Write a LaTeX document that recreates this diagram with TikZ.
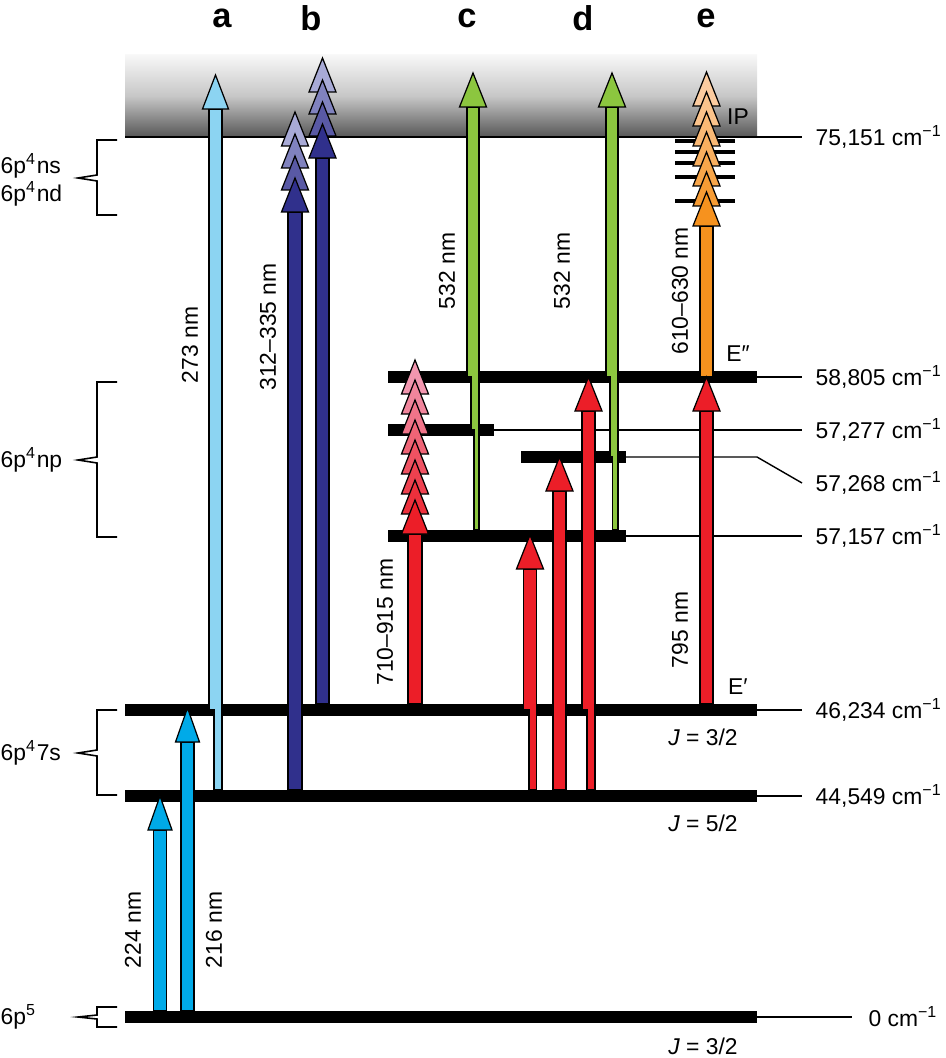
\documentclass[tikz,border=0pt]{standalone}
\usepackage{fontspec}
\setmainfont{Liberation Sans}
\usetikzlibrary{positioning}
\definecolor{skyblue}{RGB}{140,212,242}
\definecolor{cyanblue}{RGB}{0,170,232}
\definecolor{navyblue}{RGB}{48,48,140}
\definecolor{lavender}{RGB}{168,170,214}
\definecolor{laserred}{RGB}{236,30,40}
\definecolor{lightpink}{RGB}{242,150,175}
\definecolor{lasergreen}{RGB}{140,198,63}
\definecolor{laserorange}{RGB}{246,146,30}
\definecolor{peach}{RGB}{252,204,160}
%Arrow head: colour, x centre, y of tip, half width
\newcommand{\arrhead}[4]{\filldraw[arr,fill=#1] ({#2},{#3}) -- ({#2+#4},{#3+34}) -- ({#2-#4},{#3+34}) -- cycle;}
\begin{document}
\begin{tikzpicture}[x=0.01cm,y=-0.01cm,
  bar/.style={line width=3.5pt},
  lead/.style={line width=0.4pt},
  brack/.style={line width=0.45pt},
  arr/.style={draw=black,line width=0.35pt,line join=miter},
  lab/.style={font=\fontsize{6.5}{7.8}\selectfont,inner sep=0pt},
  colname/.style={font=\fontsize{9.8}{11}\selectfont\bfseries,inner sep=0pt}]
  \useasboundingbox (0,0) rectangle (946,1058);
  %Ionisation continuum
  \shade[top color=black!3,bottom color=black!66,middle color=black!22] (125,55) rectangle (757,137);
  \draw[line width=0.6pt] (125,137) -- (757,137) coordinate (ipe);
  \coordinate (tip) at (802,137);
  \draw[lead] (ipe) -- (tip);
  \node[lab,right=3.7pt of tip] (vip) {75,151 cm\textsuperscript{−1}};
  \node[lab] (nip) at (738,117) {IP};

  %Column letters
  \node[colname] (ca) at (222,18) {a};
  \node[colname] (cb) at (311,18) {b};
  \node[colname] (cc) at (467,18) {c};
  \node[colname] (cd) at (583,18) {d};
  \node[colname] (ce) at (706,18) {e};

  %Levels
  \draw[bar] (125,1017) -- (757,1017) coordinate (g0);
  \draw[bar] (125,796) -- (757,796) coordinate (g44549);
  \draw[bar] (125,710) -- (757,710) coordinate (g46234);
  \draw[bar] (388,536) -- (626,536) coordinate (g57157);
  \draw[bar] (521,457) -- (626,457) coordinate (g57268);
  \draw[bar] (388,430) -- (494,430) coordinate (g57277);
  \draw[bar] (388,377) -- (757,377) coordinate (g58805);
  %Rydberg series below IP
  \foreach \yr in {141,152,163,177,201}
    \draw[line width=1.15pt] (675,\yr) -- (735,\yr);

  %Level energies
  \coordinate (t0) at (852,1017);
  \coordinate (t44549) at (802,796);
  \coordinate (t46234) at (802,710);
  \coordinate (t57157) at (802,536);
  \coordinate (t57268) at (802,483);
  \coordinate (t57277) at (802,430);
  \coordinate (t58805) at (802,377);
  \draw[lead] (g0) -- (t0);
  \draw[lead] (g44549) -- (t44549);
  \draw[lead] (g46234) -- (t46234);
  \draw[lead] (g57157) -- (t57157);
  \draw[lead] (g57268) -- (757,457) -- (t57268);
  \draw[lead] (g57277) -- (t57277);
  \draw[lead] (g58805) -- (t58805);
  \node[lab,right=4.5pt of t0] (v0) {0 cm\textsuperscript{−1}};
  \node[lab,right=3.7pt of t44549] (v44549) {44,549 cm\textsuperscript{−1}};
  \node[lab,right=3.7pt of t46234] (v46234) {46,234 cm\textsuperscript{−1}};
  \node[lab,right=3.7pt of t57157] (v57157) {57,157 cm\textsuperscript{−1}};
  \node[lab,right=3.7pt of t57268] (v57268) {57,268 cm\textsuperscript{−1}};
  \node[lab,right=3.7pt of t57277] (v57277) {57,277 cm\textsuperscript{−1}};
  \node[lab,right=3.7pt of t58805] (v58805) {58,805 cm\textsuperscript{−1}};
  \node[lab] (j0) at (703,1046) {\itshape J\upshape{} = 3/2};
  \node[lab] (j44549) at (703,823) {\itshape J\upshape{} = 5/2};
  \node[lab] (j46234) at (703,737) {\itshape J\upshape{} = 3/2};
  \node[lab] (eone) at (738,687) {E′};
  \node[lab] (etwo) at (738,354) {E″};

  %Configurations
  \draw[brack] (117,140) -- (97,140) -- (97,175) -- (78,178) -- (97,181) -- (97,215) -- (117,215);
  \draw[brack] (117,382) -- (97,382) -- (97,457) -- (78,460) -- (97,463) -- (97,537) -- (117,537);
  \draw[brack] (117,710) -- (97,710) -- (97,750) -- (78,753) -- (97,756) -- (97,795) -- (117,795);
  \draw[brack] (117,1007) -- (97,1007) -- (97,1015) -- (78,1017) -- (97,1019) -- (97,1027) -- (117,1027);
  \node[lab,anchor=west] (cns) at (0,166) {6p\textsuperscript{4}ns};
  \node[lab,anchor=west] (cnd) at (0,194) {6p\textsuperscript{4}nd};
  \node[lab,anchor=west] (cnp) at (0,460) {6p\textsuperscript{4}np};
  \node[lab,anchor=west] (csv) at (0,753) {6p\textsuperscript{4}7s};
  \node[lab,anchor=west] (cgs) at (0,1017) {6p\textsuperscript{5}};

  %First steps 224 nm and 216 nm
  \filldraw[arr,fill=cyanblue] (153.5,1011) rectangle (166.5,830);
  \arrhead{cyanblue}{160}{796}{12}
  \filldraw[arr,fill=cyanblue] (181,1011) rectangle (194,742);
  \arrhead{cyanblue}{187.5}{708}{12}
  \node[lab,rotate=90] (w224) at (133,930) {224 nm};
  \node[lab,rotate=90] (w216) at (214,930) {216 nm};

  %a
  \filldraw[arr,fill=skyblue] (214,790) -- (214,710) -- (209,710) -- (209,109) -- (222,109) -- (222,790) -- cycle;
  \arrhead{skyblue}{215.5}{75}{13}
  \node[lab,rotate=90] (w273) at (190,345) {273 nm};

  %b
  \filldraw[arr,fill=navyblue] (288,790) rectangle (302,212);
  \foreach \i in {0,...,3}{
    \pgfmathtruncatemacro{\m}{100*\i/3}
    \arrhead{navyblue!\m!lavender}{295}{112+22*\i}{13.5}
  }
  \filldraw[arr,fill=navyblue] (316,704) rectangle (329,158);
  \foreach \i in {0,...,3}{
    \pgfmathtruncatemacro{\m}{100*\i/3}
    \arrhead{navyblue!\m!lavender}{322.5}{58+22*\i}{13.5}
  }
  \node[lab,rotate=90] (w312) at (268,327) {312–335 nm};

  %c
  \filldraw[arr,fill=laserred] (408,704) rectangle (422,534);
  \foreach \i in {0,...,7}{
    \pgfmathtruncatemacro{\m}{100*\i/7}
    \arrhead{laserred!\m!lightpink}{415}{360+20*\i}{13.5}
  }
  \filldraw[arr,fill=lasergreen] (474,530) -- (474,430) -- (471,430) -- (471,377) -- (467,377) -- (467,107) -- (479,107) -- (479,530) -- cycle;
  \arrhead{lasergreen}{473}{73}{13.5}
  \node[lab,rotate=90] (w710) at (385,622) {710–915 nm};
  \node[lab,rotate=90] (w532c) at (447,271) {532 nm};

  %d
  \filldraw[arr,fill=laserred] (529,790) -- (529,710) -- (523.5,710) -- (523.5,569) -- (536.5,569) -- (536.5,790) -- cycle;
  \arrhead{laserred}{530}{535}{13.5}
  \filldraw[arr,fill=laserred] (553,790) rectangle (566,491);
  \arrhead{laserred}{559.5}{457}{13.5}
  \filldraw[arr,fill=laserred] (587,790) -- (587,710) -- (582,710) -- (582,411) -- (595,411) -- (595,790) -- cycle;
  \arrhead{laserred}{588.5}{377}{13.5}
  \filldraw[arr,fill=lasergreen] (612.5,530) -- (612.5,457) -- (610,457) -- (610,377) -- (606,377) -- (606,107) -- (618,107) -- (618,530) -- cycle;
  \arrhead{lasergreen}{612}{73}{13.5}
  \node[lab,rotate=90] (w532d) at (562,271) {532 nm};

  %e
  \filldraw[arr,fill=laserorange] (700,377) rectangle (713,226);
  \foreach \i in {0,...,6}{
    \pgfmathtruncatemacro{\m}{100*\i/6}
    \arrhead{laserorange!\m!peach}{706.5}{72+20*\i}{13.5}
  }
  \filldraw[arr,fill=laserred] (700,704) rectangle (713,411);
  \arrhead{laserred}{706.5}{377}{13.5}
  \node[lab,rotate=90] (w610) at (680,291) {610–630 nm};
  \node[lab,rotate=90] (w795) at (680,630) {795 nm};
\end{tikzpicture}
\end{document}
